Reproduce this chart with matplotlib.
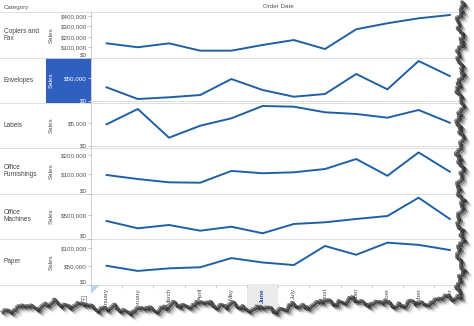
import numpy as np
import matplotlib.pyplot as plt
from matplotlib.patches import Rectangle, Polygon

plt.rcParams['font.family'] = ['Liberation Sans', 'DejaVu Sans']

# ── Data ──────────────────────────────────────────────────────────────────────
MONTHS = ['January', 'February', 'March', 'April', 'May', 'June', 'July',
          'August', 'September', 'October', 'November', 'December']
CATEGORIES = ['Copiers and\nFax', 'Envelopes', 'Labels',
              'Office\nFurnishings', 'Office\nMachines', 'Paper']

COPIERS = [137000, 99000, 137000, 66000, 66000, 121000,
           169000, 82000, 273000, 331000, 379000, 411000]
ENVELOPES = [29900, 3800, 7600, 12700, 48400, 23900,
             8900, 15000, 59600, 25400, 88600, 55100]
LABELS = [4780, 8190, 1790, 4460, 6120, 8860,
          8710, 7460, 7080, 6250, 7970, 5130]
FURNISHINGS = [96000, 75000, 58000, 56000, 117000, 105000,
               110000, 127000, 179000, 92000, 213000, 113000]
MACHINES = [375000, 223000, 292000, 173000, 256000, 119000,
            313000, 348000, 417000, 479000, 860000, 417000]
PAPER = [51000, 37000, 44000, 47000, 72000, 60000,
         53000, 105000, 81000, 114000, 108000, 94000]

SERIES = [COPIERS, ENVELOPES, LABELS, FURNISHINGS, MACHINES, PAPER]
TICKS = [[0, 100000, 200000, 300000, 400000],
         [0, 50000],
         [0, 5000],
         [0, 100000, 200000],
         [0, 500000],
         [0, 50000, 100000]]

# ── Layout (pixels) ───────────────────────────────────────────────────────────
W, H = 474, 326
PANE_EDGES = [12, 57.5, 103, 148, 193.5, 239, 284.5]
X0, X1 = 91, 465.4
YLIMS = [(0, 440000), (-5100, 96400), (-510, 9530),
         (0, 236000), (0, 948000), (0, 124000)]
SELECTED = 1                     # highlighted row (Envelopes)
LINE = '#1f5fa6'
GRID = '#d9d9d9'
TXT = '#555555'
FS = 4.5


def rect(x0, y0, x1, y1):
    return [x0 / W, 1 - y1 / H, (x1 - x0) / W, (y1 - y0) / H]


def ragged(t, base, terms):
    # sum of sines gives a rough, torn-looking outline
    out = np.full_like(t, base, dtype=float)
    for amp, freq, phase in terms:
        out += amp * np.sin(t * freq + phase)
    return out


fig = plt.figure(figsize=(W / 100, H / 100), dpi=100)

# background layer: headers, row labels, separators
bg = fig.add_axes([0, 0, 1, 1], zorder=0)
bg.set_xlim(0, W)
bg.set_ylim(H, 0)
bg.axis('off')

bg.text(4, 7, 'Category', fontsize=FS, color=TXT, va='center')
bg.text(278, 6.5, 'Order Date', fontsize=FS, color=TXT, va='center', ha='center')

for y in PANE_EDGES:
    bg.plot([0, 470], [y, y], color=GRID, lw=0.6)
bg.plot([X0, X0], [PANE_EDGES[0], PANE_EDGES[-1]], color='#c8c8c8', lw=0.6)

bg.add_patch(Rectangle((46.5, PANE_EDGES[SELECTED]), X0 - 46.5,
                       PANE_EDGES[SELECTED + 1] - PANE_EDGES[SELECTED],
                       color='#2f5fbf', lw=0))

for i, name in enumerate(CATEGORIES):
    yc = (PANE_EDGES[i] + PANE_EDGES[i + 1]) / 2
    bg.text(4, yc, name, fontsize=FS + 0.2, color='#444', va='center',
            ha='left', linespacing=1.05)
    bg.text(51, yc, 'Sales', fontsize=FS, rotation=90, va='center', ha='center',
            color='white' if i == SELECTED else TXT)

# little corner marker and "+" button
bg.add_patch(Polygon([(X0, 285), (X0 + 9, 285), (X0, 294)],
                     closed=True, color='#b9d3ee', lw=0))
bg.text(83.5, 299.5, '+', fontsize=4, color='#333', ha='center', va='center',
        bbox=dict(boxstyle='square,pad=0.15', fc='white', ec='#888', lw=0.5))

# ── Panes ─────────────────────────────────────────────────────────────────────
axes = []
for i, vals in enumerate(SERIES):
    ax = fig.add_axes(rect(X0, PANE_EDGES[i], X1, PANE_EDGES[i + 1]), zorder=1)
    ax.set_facecolor('none')
    ax.plot(range(len(MONTHS)), vals, color=LINE, lw=1.4)
    ax.set_xlim(-0.5, len(MONTHS) - 0.5)
    ax.set_ylim(*YLIMS[i])
    for s in ['top', 'right', 'bottom', 'left']:
        ax.spines[s].set_visible(False)

    lab_col = 'white' if i == SELECTED else TXT
    ax.set_yticks(TICKS[i], labels=[f'${t:,.0f}' for t in TICKS[i]])
    ax.tick_params(axis='y', labelsize=FS, length=2.2, width=0.5, pad=0.8,
                   color='white' if i == SELECTED else '#aaaaaa',
                   labelcolor=lab_col)
    if YLIMS[i][0] == 0:
        for t, lab in zip(TICKS[i], ax.get_yticklabels()):
            if t == 0:
                lab.set_va('bottom')
    else:
        ax.axhline(0, color='#aaaaaa', lw=0.6, ls=(0, (1, 1)))
    ax.set_xticks([])
    axes.append(ax)

# month axis under the last pane
ax = axes[-1]
ax.set_xticks(range(len(MONTHS)), labels=MONTHS, rotation=90)
ax.set_xticks(np.arange(len(MONTHS) - 1) + 0.5, minor=True)
ax.tick_params(axis='x', which='major', length=0, pad=2.5, labelsize=FS,
               labelcolor=TXT)
ax.tick_params(axis='x', which='minor', length=2, width=0.5, color='#bbbbbb')
for lab in ax.get_xticklabels():
    lab.set_va('top')
june = ax.get_xticklabels()[5]
june.set_color('#1f4e9c')
june.set_fontweight('bold')
ax.add_patch(Rectangle((4.5, -0.6), 1, 0.6, transform=ax.get_xaxis_transform(),
                       clip_on=False, color='#ebebeb', lw=0, zorder=0))

# ── Torn paper edge ───────────────────────────────────────────────────────────
top = fig.add_axes([0, 0, 1, 1], zorder=10)
top.set_xlim(0, W)
top.set_ylim(H, 0)
top.axis('off')

bx = np.linspace(0, 460, 260)
by = ragged(bx, 306, [(3, 0.045, 2), (2.2, 0.21, 0), (1.6, 0.53, 1.3),
                      (1.0, 1.37, 0.4), (0.8, 2.9, 1.1), (0.5, 5.3, 0.2)])
by -= (bx / 460) ** 4 * 10
ry = np.linspace(by[-1], 0, 220)
rx = ragged(ry, 459, [(2.5, 0.19, 0.7), (1.5, 0.61, 0), (1.0, 1.7, 2),
                      (0.7, 3.1, 0.5), (0.5, 5.9, 1.7)])
ex = np.concatenate([bx, rx])
ey = np.concatenate([by, ry])

outside = list(zip(ex, ey)) + [(W, 0), (W, H), (0, H)]
top.add_patch(Polygon(outside, closed=True, color='white', lw=0))
for d, a in [(1.6, 0.75), (3.2, 0.45), (4.8, 0.22), (6.4, 0.08)]:
    top.plot(ex + d, ey + d, color='#222222', lw=2.2, alpha=a,
             solid_capstyle='butt')
top.plot(ex, ey, color='#666666', lw=0.5)

fig.savefig('out.png', dpi=100)
